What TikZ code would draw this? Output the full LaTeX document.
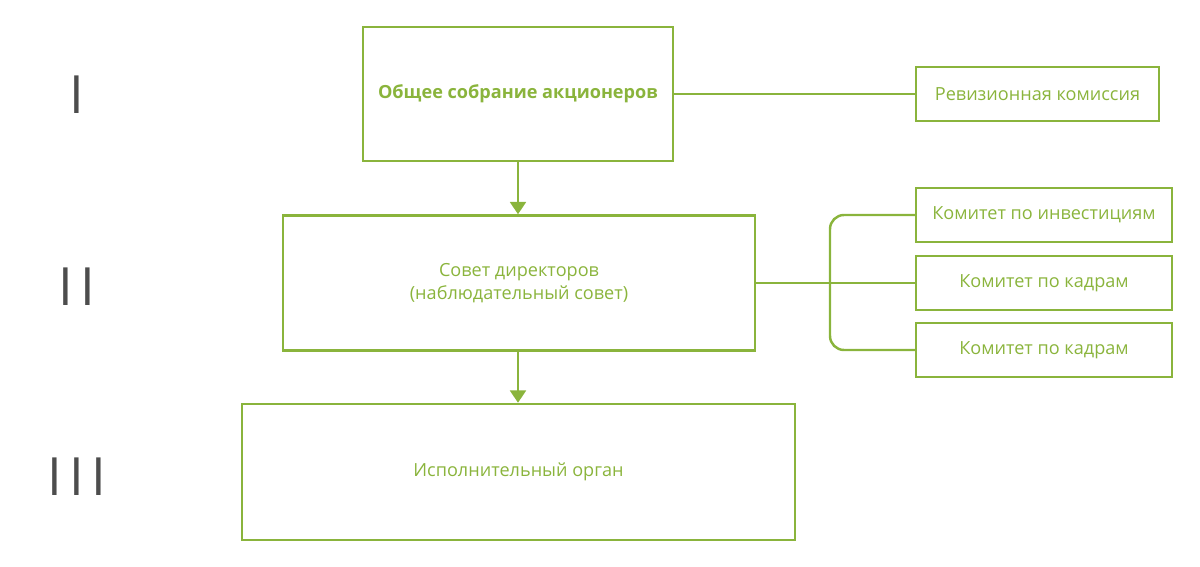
\documentclass[tikz,border=0pt]{standalone}
\usepackage{fontspec}
\setmainfont{Open Sans}
\usetikzlibrary{arrows.meta}
\definecolor{leaf}{HTML}{8AB43C}
\definecolor{numgray}{HTML}{4D4D4D}
\tikzset{
  orgbox/.style={draw=leaf,line width=1.4pt,text=leaf,font=\fontsize{10.3}{13.5}\selectfont,align=center},
  link/.style={draw=leaf,line width=1.4pt},
  level/.style={text=numgray,font=\fontsize{30}{32}\selectfont}
}
\begin{document}
\begin{tikzpicture}[x=0.02cm,y=-0.02cm]
  \useasboundingbox (0,0) rectangle (1200,567);

  %% levels
  \node[level] (l1) at (77,95) {I};
  \node[level] (l2) at (77,287) {I\hspace{4pt}I};
  \node[level] (l3) at (77,477) {I\hspace{4pt}I\hspace{4pt}I};

  %% main boxes
  \node[orgbox,minimum width=310*0.02cm,minimum height=134*0.02cm,font=\fontsize{10.3}{13.5}\selectfont\bfseries] (meet) at (518,94) {Общее собрание акционеров};
  \node[orgbox,minimum width=472*0.02cm,minimum height=135*0.02cm] (board) at (519,283) {Совет директоров\\(наблюдательный совет)};
  \node[orgbox,minimum width=553*0.02cm,minimum height=136*0.02cm] (exec) at (518.5,472) {Исполнительный орган};

  %% side boxes
  \node[orgbox,minimum width=243*0.02cm,minimum height=54*0.02cm] (audit) at (1037.5,94) {Ревизионная комиссия};
  \node[orgbox,minimum width=256*0.02cm,minimum height=54*0.02cm] (com1) at (1044,215) {Комитет по инвестициям};
  \node[orgbox,minimum width=256*0.02cm,minimum height=54*0.02cm] (com2) at (1044,283) {Комитет по кадрам};
  \node[orgbox,minimum width=256*0.02cm,minimum height=54*0.02cm] (com3) at (1044,350) {Комитет по кадрам};

  %% connectors
  \draw[link] (meet.east) -- (audit.west);
  \draw[link,-{Triangle[length=7pt,width=9pt]}] (meet.south) -- (meet.south |- board.north);
  \draw[link,-{Triangle[length=7pt,width=9pt]}] (meet.south |- board.south) -- (meet.south |- exec.north);

  \coordinate (fork) at (830,283);
  \draw[link] (board.east) -- (com2.west);
  \draw[link,rounded corners=8pt] (fork) -- (fork |- com1.west) -- (com1.west);
  \draw[link,rounded corners=8pt] (fork) -- (fork |- com3.west) -- (com3.west);
\end{tikzpicture}
\end{document}
